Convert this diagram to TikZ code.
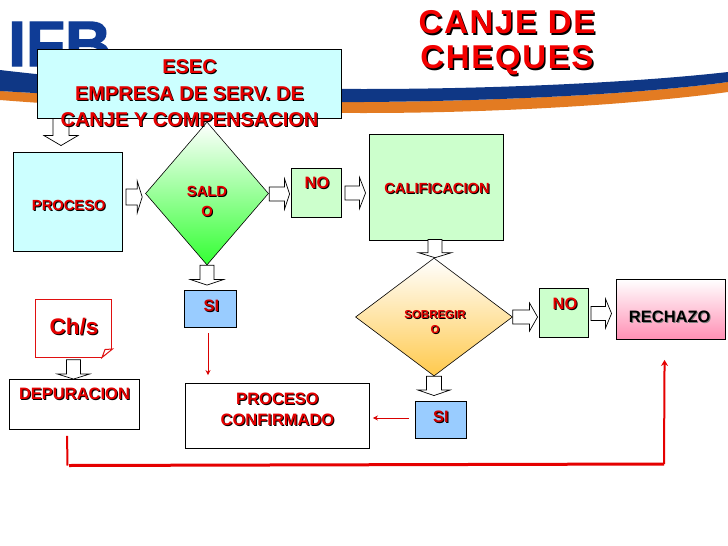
\documentclass[tikz,border=0pt]{standalone}
\usepackage{fontspec}
\setmainfont{Liberation Sans}
\usetikzlibrary{calc,shapes.geometric,arrows.meta,positioning}
\definecolor{cyanbox}{HTML}{CCFFFF}
\definecolor{greenbox}{HTML}{CCFFCC}
\definecolor{bluebox}{HTML}{99CCFF}
\definecolor{redtxt}{HTML}{E60000}
\definecolor{bandblue}{HTML}{0F3785}
\definecolor{bandorange}{HTML}{E37B22}
\definecolor{logoblue}{HTML}{0F3C96}
\definecolor{notered}{HTML}{E01010}
\definecolor{rechpink}{HTML}{FF8FB4}
\newlength{\shoff}\setlength{\shoff}{1pt}
\newcommand{\shcol}{black}
% one line of shadowed text: dx, height of the caps' centre above the node centre, text
\newcommand{\tl}[3]{\hspace*{#1pt}\makebox[0pt][c]{\raisebox{\dimexpr #2pt-.358em\relax}[0pt][0pt]{\makebox[0pt][l]{\kern\shoff\raisebox{-\shoff}[0pt][0pt]{\textcolor{\shcol}{#3}}}#3}}\hspace*{-#1pt}}
\newcommand{\blkR}[5]{\draw[blockarrow] let \p1=#1,\p2=#2 in
  (\x1,\y1+#3pt) -- (\x2-#5pt,\y1+#3pt) -- (\x2-#5pt,\y1+#4pt) -- (\x2,\y1) -- (\x2-#5pt,\y1-#4pt) -- (\x2-#5pt,\y1-#3pt) -- (\x1,\y1-#3pt) -- cycle;}
\newcommand{\blkD}[5]{\draw[blockarrow] let \p1=#1,\p2=#2 in
  (\x1-#3pt,\y1) -- (\x1-#3pt,\y2+#5pt) -- (\x1-#4pt,\y2+#5pt) -- (\x1,\y2) -- (\x1+#4pt,\y2+#5pt) -- (\x1+#3pt,\y2+#5pt) -- (\x1+#3pt,\y1) -- cycle;}
\tikzset{
  x=1pt,y=-1pt,
  flowbox/.style={draw=black,line width=.9pt,inner sep=0pt,text=redtxt,font=\bfseries\fontsize{16.5}{18}\selectfont},
  flowdiamond/.style={diamond,draw=black,line width=.6pt,inner sep=0pt,text=redtxt},
  blockarrow/.style={draw=black,fill=white,line width=.7pt,line join=miter},
  thinred/.style={draw=red!85!black,line width=1pt,-{Stealth[length=5pt,width=5pt]}},
  thickred/.style={draw=red!90!black,line join=miter},
  noteline/.style={draw=notered,line join=miter},
}
\begin{document}
\begin{tikzpicture}
\useasboundingbox (0,0) rectangle (728,546);
\fill[white] (0,0) rectangle (728,546);
% logo and band
\node[anchor=base west,inner sep=0pt,text=logoblue,font=\bfseries\fontsize{64}{64}\selectfont\addfontfeature{FakeBold=2}] (logo) at (8,66) {IFB};
\fill[bandorange] (0,91) .. controls (100,97) and (230,103) .. (364,102) .. controls (500,101) and (640,94) .. (728,82)
  -- (728,92) .. controls (640,104) and (500,113) .. (364,113) .. controls (230,113) and (100,108) .. (0,100) -- cycle;
\fill[bandblue] (0,70) .. controls (100,82) and (220,89) .. (364,89) .. controls (500,89) and (640,82) .. (728,72)
  -- (728,82) .. controls (640,94) and (500,101) .. (364,102) .. controls (230,103) and (100,97) .. (0,91) -- cycle;
% title
\node[inner sep=0pt,text=red!95!black,font=\bfseries\fontsize{33}{33}\selectfont\addfontfeature{LetterSpace=5}] (title) at (507,40)
  {\setlength{\shoff}{1.5pt}\tl{0}{18}{CANJE DE}\tl{0}{-17}{CHEQUES}};
% nodes
\node[flowbox,fill=cyanbox,minimum width=109.5pt,minimum height=98.5pt,font=\bfseries\fontsize{14.7}{16}\selectfont] (proc) at (67.75,201.75) {\tl{1}{-3.5}{PROCESO}};
\coordinate (esecS) at (61,118);
\blkD{(esecS)}{($(proc.north west)+(48.5,-6.5)$)}{8}{17}{10}
\node[flowdiamond,top color=white,bottom color=green!80!white,minimum width=123pt,minimum height=143pt,aspect=.86,font=\bfseries\fontsize{14.7}{16}\selectfont] (saldo) at (207,193.5)
  {\tl{0}{2}{SALD}\tl{0}{-18}{O}};
\node[flowbox,fill=cyanbox,minimum width=304pt,minimum height=69pt,font=\bfseries\fontsize{20}{22}\selectfont] (esec) at (189.5,83.5)
  {\tl{0}{17.5}{ESEC}\tl{0}{-9.5}{EMPRESA DE SERV. DE}\tl{0}{-35.5}{CANJE Y COMPENSACION}};
\node[flowbox,fill=greenbox,minimum width=50pt,minimum height=49pt] (no1) at (316.5,192.5) {\tl{0.5}{9.5}{NO}};
\node[flowbox,fill=greenbox,minimum width=134pt,minimum height=105.5pt,font=\bfseries\fontsize{14.7}{16}\selectfont] (calif) at (436.5,187.25) {\tl{0.5}{-0.5}{CALIFICACION}};
\node[flowdiamond,top color=white,bottom color=orange!60!yellow!70!white,minimum width=157pt,minimum height=118pt,aspect=1.33,font=\bfseries\fontsize{11.5}{13}\selectfont] (sobre) at (434,317)
  {\tl{1}{3}{SOBREGIR}\tl{1}{-12}{O}};
\node[flowbox,fill=greenbox,minimum width=49pt,minimum height=49.5pt] (no2) at (564,312.75) {\tl{1}{9}{NO}};
\node[flowbox,top color=white,bottom color=rechpink,minimum width=108.5pt,minimum height=60pt,text=black] (rech) at (670.75,309.5)
  {\renewcommand{\shcol}{gray}\tl{-1}{-7}{RECHAZO}};
\node[flowbox,fill=bluebox,minimum width=52pt,minimum height=37pt,text=red!80!black] (si1) at (210.5,309) {\tl{1}{3}{SI}};
\node[flowbox,fill=bluebox,minimum width=51pt,minimum height=37pt,text=red!80!black] (si2) at (441,420) {\tl{0}{3}{SI}};
\node[flowbox,fill=white,minimum width=184pt,minimum height=65pt] (conf) at (277.5,416)
  {\tl{0}{17.5}{PROCESO}\tl{0}{-4}{CONFIRMADO}};
\node[flowbox,fill=white,minimum width=130pt,minimum height=50pt] (dep) at (74.5,404.5) {\tl{0}{10.5}{DEPURACION}};
% Ch/s note with folded corner
\node[inner sep=0pt,minimum width=76pt,minimum height=58pt,text=redtxt,font=\bfseries\fontsize{22.5}{24}\selectfont] (chs) at (73.5,328.5) {\tl{0.5}{2.5}{Ch/s}};
\draw[noteline,line width=1.2pt] (102,357.5) -- (35.5,357.5) -- (35.5,299.5) -- (111.5,299.5) -- (111.5,349);
\draw[noteline,line width=1pt] (102,357.5) -- (105,349.5) -- (112.5,349) -- cycle;
% block arrows
\blkR{($(proc.east)+(3,-4.75)$)}{($(saldo.west)+(-3,3.5)$)}{8}{16}{5}
\blkR{($(saldo.east)+(0.5,0.5)$)}{($(no1.west)+(-1.5,1.5)$)}{7}{15}{5}
\blkR{($(no1.east)+(3,0.5)$)}{($(calif.west)+(-3.5,5.75)$)}{7}{15.5}{6}
\blkD{($(calif.south)+(-1.5,-1)$)}{(sobre.north)}{7}{16.5}{5}
\blkR{(sobre.east)}{($(no2.west)+(-1.5,0.75)$)}{7}{14}{8}
\blkR{($(no2.east)+(2,0.75)$)}{($(rech.west)+(-4.5,4.5)$)}{7}{14.5}{6}
\blkD{(saldo.south)}{($(si1.north)+(-4.5,-5)$)}{7}{16.5}{5.5}
\blkD{($(chs.south)+(0,2)$)}{(dep.north)}{7}{16}{5}
\blkD{(sobre.south)}{($(si2.north)+(-6,-5.5)$)}{7.5}{16}{5.5}
% red connectors
\coordinate (a1) at ($(si1.south)+(-2.5,5.5)$);
\coordinate (a2) at ($(conf.north west)+(22.5,-8)$);
\draw[thinred] (a1) -- (a1 |- a2);
\draw[thinred] ($(si2.west)+(-6,-2)$) -- ($(conf.east)+(3,2)$);
\coordinate (b1) at ($(dep.south west)+(58,6)$);
\coordinate (b2) at (67.5,465.5);
\coordinate (b3) at (664,464);
\coordinate (b4) at ($(rech.south west)+(48.5,20)$);
\draw[thickred,line width=2pt] (b1) -- (b2);
\draw[thickred,line width=3pt] (69,465.5) -- (b3);
\draw[thickred,line width=2pt,-{Stealth[length=6pt,width=7pt]}] (b3) -- (b4);
\end{tikzpicture}
\end{document}
